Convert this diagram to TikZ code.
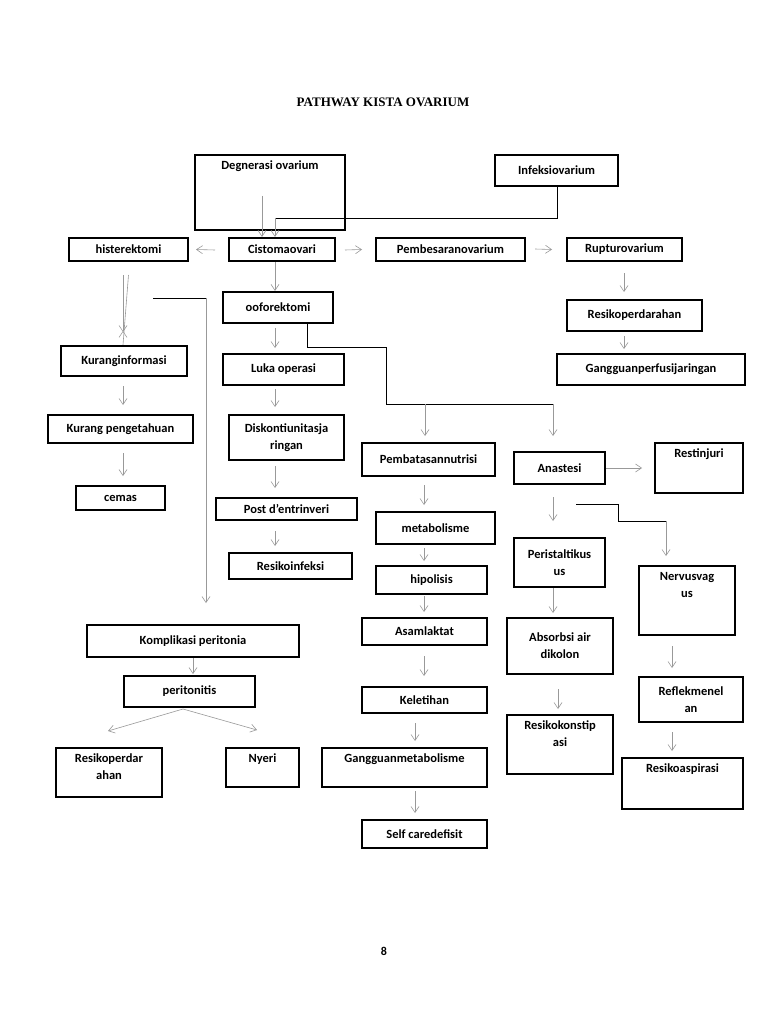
\documentclass[tikz,border=0pt]{standalone}
\usepackage{fontspec}
\setmainfont{Carlito}
\newfontfamily\titlefont{Liberation Serif}
\usetikzlibrary{arrows.meta}
\tikzset{
  bx/.style={draw=black,line width=2.2pt,inner sep=0pt,font=\bfseries\fontsize{12.5}{17}\selectfont,align=center},
  ar/.style={draw=gray!80,line width=0.6pt,-{Straight Barb[length=6pt,width=8pt]}},
  bl/.style={draw=black,line width=0.8pt},
}
% box: name, left, top, right, bottom, text
\newcommand{\mybox}[6]{\node[bx,minimum width={#4-#2},minimum height={#5-#3}] (#1) at ({(#2+#4)/2},{(#3+#5)/2}) {#6};}
\newcommand{\topbox}[7]{\node[bx,minimum width={#4-#2},minimum height={#5-#3},label={[font=\bfseries\fontsize{12.5}{17}\selectfont,align=center,anchor=north]north:#6}] (#1) at ({(#2+#4)/2},{(#3+#5)/2}) {}; }
\begin{document}
\begin{tikzpicture}[x=1pt,y=-1pt]
\useasboundingbox[fill=white] (0,0) rectangle (768,1024);
\node[font=\titlefont\bfseries\fontsize{13}{15}\selectfont] (title) at (383,102) {PATHWAY KISTA OVARIUM};
\node[font=\bfseries\fontsize{12}{14}\selectfont] (pg) at (384,951) {8};

\topbox{deg}{195}{155}{345}{230}{\rule{0pt}{12pt}Degnerasi ovarium}{}
\mybox{inf}{495}{155}{618}{186}{Infeksiovarium}
\mybox{his}{69}{238}{188}{261}{histerektomi}
\mybox{cis}{229}{238}{335}{261}{Cistomaovari}
\mybox{pem}{376}{238}{525}{261}{Pembesaranovarium}
\mybox{rup}{567}{238}{682}{261}{Rupturovarium}
\mybox{oof}{223}{292}{333}{323}{ooforektomi}
\mybox{rpd}{567}{300}{702}{331}{Resikoperdarahan}
\mybox{kin}{61}{346}{187}{376}{Kuranginformasi}
\mybox{luk}{223}{354}{344}{385}{Luka operasi}
\mybox{gpj}{557}{354}{745}{385}{Gangguanperfusijaringan}
\mybox{kpe}{48}{415}{193}{443}{Kurang pengetahuan}
\mybox{dis}{229}{415}{344}{460}{Diskontiunitasja\\ringan}
\mybox{pbn}{362}{443}{495}{476}{Pembatasannutrisi}
\mybox{ana}{514}{452}{605}{484}{Anastesi}
\topbox{res}{655}{443}{743}{493}{\rule{0pt}{12pt}Restinjuri}{}
\mybox{cem}{76}{486}{165}{510}{cemas}
\mybox{pos}{216}{498}{357}{520}{Post d'entrinveri}
\mybox{met}{376}{512}{495}{544}{metabolisme}
\mybox{per}{514}{538}{605}{587}{Peristaltikus\\us}
\mybox{rin}{229}{553}{352}{579}{Resikoinfeksi}
\mybox{hip}{376}{566}{487}{594}{hipolisis}
\topbox{ner}{639}{566}{735}{635}{\rule{0pt}{12pt}Nervusvag\\us}{}
\mybox{kom}{87}{625}{299}{657}{Komplikasi peritonia}
\mybox{asa}{362}{618}{487}{645}{Asamlaktat}
\mybox{abs}{507}{618}{613}{674}{Absorbsi air\\dikolon}
\mybox{ptn}{124}{676}{255}{707}{peritonitis}
\mybox{ref}{639}{677}{743}{722}{Reflekmenel\\an}
\mybox{kel}{362}{687}{487}{713}{Keletihan}
\topbox{rko}{507}{715}{613}{774}{\rule{0pt}{12pt}Resikokonstip\\asi}{}
\topbox{rpa}{56}{748}{162}{797}{\rule{0pt}{12pt}Resikoperdar\\ahan}{}
\topbox{nye}{226}{748}{299}{787}{\rule{0pt}{12pt}Nyeri}{}
\topbox{gme}{322}{748}{487}{787}{\rule{0pt}{12pt}Gangguanmetabolisme}{}
\topbox{rap}{622}{758}{743}{809}{\rule{0pt}{12pt}Resikoaspirasi}{}
\mybox{sel}{362}{820}{487}{848}{Self caredefisit}

% connectors
\draw[ar] (262,196) -- (cis.north -| 262,0);
\draw[bl] (inf.south -| 557,0) -- (557,218) -- (275,218);
\draw[ar] (275,218) -- (cis.north -| 275,0);
\draw[ar] (215,250) -- (his.east -| 196,0);
\draw[ar] (345,250) -- (pem.west -| 362,0);
\draw[ar] (535,249) -- (rup.west -| 552,0);
\draw[ar] (his.south |- 0,275) -- (kin.north -| 123,0) ++(0,-14);
\draw[ar] (123,275) -- (123,332);
\draw[ar] (cis.south -| 275,0) -- (oof.north -| 275,0);
\draw[ar] (rup.south -| 624,0) ++(0,11) -- (624,292);
\draw[ar] (rpd.south -| 624,0) ++(0,4) -- (624,349);
\draw[ar] (oof.south -| 275,0) ++(0,4) -- (275,348);
\draw[bl] (oof.south -| 307,0) -- (307,347) -- (386,347) -- (386,404) -- (553,404);
\coordinate (j1) at (425,404);
\coordinate (j2) at (553,404);
\draw[ar] (j1) -- (425,436);
\draw[ar] (j2) -- (553,436);
\draw[bl] (153,298) -- (206,298);
\draw[ar] (206,298) -- (206,603);
\draw[ar] (kin.south -| 123,0) ++(0,9) -- (123,405);
\draw[ar] (kpe.south -| 123,0) ++(0,9) -- (123,476);
\draw[ar] (luk.south -| 275,0) ++(0,3) -- (275,407);
\draw[ar] (dis.south -| 275,0) ++(0,5) -- (275,488);
\draw[ar] (pos.south -| 275,0) ++(0,10) -- (275,546);
\draw[ar] (pbn.south -| 424,0) ++(0,8) -- (424,505);
\draw[ar] (met.south -| 424,0) ++(0,3) -- (424,561);
\draw[ar] (hip.south -| 424,0) ++(0,1) -- (424,612);
\draw[ar] (asa.south -| 424,0) ++(0,10) -- (424,676);
\draw[ar] (kel.south -| 415,0) ++(0,9) -- (415,741);
\draw[ar] (gme.south -| 415,0) ++(0,3) -- (415,813);
\draw[ar] (ana.east) ++(0,0) -- (642,468);
\draw[ar] (ana.south -| 553,0) ++(0,12) -- (553,521);
\draw[bl] (576,504) -- (618,504) -- (618,521) -- (666,521);
\draw[ar] (666,521) -- (666,556);
\draw[ar] (per.south -| 553,0) -- (553,613);
\draw[ar] (abs.south -| 558,0) ++(0,14) -- (558,709);
\draw[ar] (ner.south -| 672,0) ++(0,10) -- (672,668);
\draw[ar] (ref.south -| 672,0) ++(0,9) -- (672,751);
\draw[ar] (kom.south -| 193,0) -- (193,674);
\coordinate (pj) at (183,709);
\draw[ar] (pj) -- (108,731);
\draw[ar] (pj) -- (257,730);
\end{tikzpicture}
\end{document}
